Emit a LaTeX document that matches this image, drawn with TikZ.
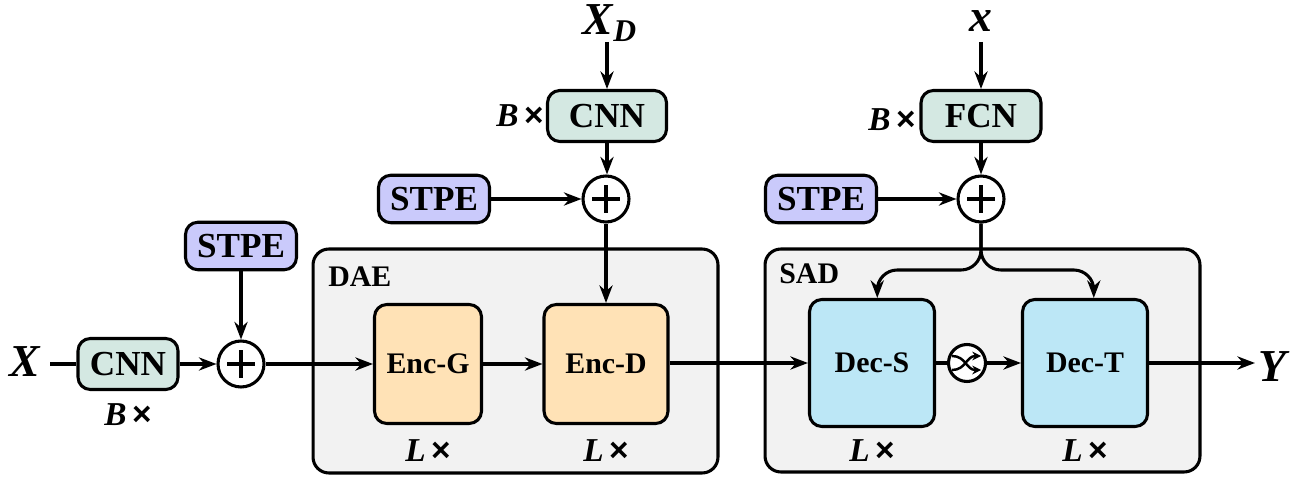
\documentclass[tikz,border=0pt]{standalone}
\usepackage{fontspec}
\setmainfont{Liberation Serif}
\setsansfont{Liberation Sans}
\usetikzlibrary{arrows.meta,positioning}

\definecolor{stpeblue}{HTML}{CACAFB}
\definecolor{cnngreen}{HTML}{D4E8E2}
\definecolor{encorange}{HTML}{FFE2B6}
\definecolor{deccyan}{HTML}{BCE7F6}
\definecolor{grpgray}{HTML}{F2F2F2}

\newcommand{\rep}[1]{\textbf{\textit{#1}}\,{\sffamily\bfseries ×}}

\tikzset{
    blk/.style={draw, line width=1.75pt, rounded corners=7pt, inner sep=0pt,
        font=\bfseries\fontsize{20}{24}\selectfont},
    stpe/.style={blk, fill=stpeblue, minimum width=2.22cm, minimum height=0.95cm},
    cnn/.style={blk, fill=cnngreen, minimum height=1.02cm},
    enc/.style={blk, fill=encorange, minimum height=2.38cm, font=\bfseries\fontsize{17}{20}\selectfont},
    dec/.style={blk, fill=deccyan, minimum width=2.5cm, minimum height=2.54cm, font=\bfseries\fontsize{17}{20}\selectfont},
    grp/.style={draw, line width=1.75pt, rounded corners=9pt, fill=grpgray},
    grplabel/.style={anchor=north west, inner sep=0pt, font=\bfseries\fontsize{17}{20}\selectfont},
    plus/.style={draw, circle, line width=1.75pt, minimum size=0.92cm, inner sep=0pt, fill=white,
        path picture={\draw[line width=1.75pt] ([xshift=-0.28cm]path picture bounding box.center) -- ([xshift=0.28cm]path picture bounding box.center)
            ([yshift=-0.28cm]path picture bounding box.center) -- ([yshift=0.28cm]path picture bounding box.center);}},
    mul/.style={draw, circle, line width=1.75pt, minimum size=0.74cm, inner sep=0pt, fill=white},
    io/.style={inner sep=1pt, anchor=base, font=\bfseries\itshape\fontsize{26}{30}\selectfont},
    rp/.style={inner sep=0pt, font=\fontsize{19}{22}\selectfont},
    arr/.style={-{Stealth[length=10pt,width=7.5pt]}, line width=1.75pt},
    ln/.style={line width=1.75pt}
}

\begin{document}
\begin{tikzpicture}[x=0.02cm, y=-0.02cm]
        \useasboundingbox (0,0) rectangle (1294,479);

        % groups
        \node[grp, minimum width=8.1cm, minimum height=4.48cm](dae) at (515.5,361) {};
        \node[grp, minimum width=8.7cm, minimum height=4.46cm](sad) at (982.5,360.5) {};
        \node[grplabel](daelab) at (328,266) {DAE};
        \node[grplabel](sadlab) at (779,263) {SAD};

        % inputs and outputs
        \node[io](X) at (25,377) {X};
        \node[io](XD) at (610,35) {X\textsubscript{\fontsize{18}{20}\selectfont D}};
        \node[io](xs) at (981,32) {x};
        \node[io](Y) at (1272,381) {Y};

        % blocks
        \node[cnn, minimum width=2cm](cnnL) at (128,364) {CNN};
        \node[cnn, minimum width=2.38cm](cnnT) at (607,116) {CNN};
        \node[cnn, minimum width=2.4cm](fcn) at (981,116) {FCN};
        \node[stpe](stpeL) at (241,246) {STPE};
        \node[stpe](stpeM) at (434,199) {STPE};
        \node[stpe](stpeR) at (821,199) {STPE};
        \node[plus](plusL) at (241,364) {};
        \node[plus](plusT) at (606,199) {};
        \node[plus](plusR) at (981,199) {};
        \node[enc, minimum width=2.14cm](encG) at (428,364) {Enc-G};
        \node[enc, minimum width=2.48cm](encD) at (606,364) {Enc-D};
        \node[dec](decS) at (872,363) {Dec-S};
        \node[dec](decT) at (1085,363) {Dec-T};
        \node[mul](mul) at (967,363) {};
        \draw[line width=1.4pt, -{Stealth[length=5pt,width=5pt]}] ([shift={(-15,-7)}]mul.center) .. controls ([shift={(-1,-7)}]mul.center) and ([shift={(-1,7)}]mul.center) .. ([shift={(14,7)}]mul.center);
        \draw[line width=1.4pt, -{Stealth[length=5pt,width=5pt]}] ([shift={(-15,7)}]mul.center) .. controls ([shift={(-1,7)}]mul.center) and ([shift={(-1,-7)}]mul.center) .. ([shift={(14,-7)}]mul.center);

        % repeat counts
        \node[rp](bL) at (128,415) {\rep{B}};
        \node[rp](bT) at (520,116) {\rep{B}};
        \node[rp](bR) at (892,120) {\rep{B}};
        \node[rp](lG) at (428,451) {\rep{L}};
        \node[rp](lD) at (606,451) {\rep{L}};
        \node[rp](lS) at (872,451) {\rep{L}};
        \node[rp](lT) at (1085,451) {\rep{L}};

        \coordinate (brk) at (981,270);
        \coordinate (xin) at (50,364);
        \coordinate (xdout) at (607,42);
        \coordinate (xsout) at (981,42);
        \coordinate (yin) at (1255,363);
        \coordinate (encin) at (encD.east |- decS.west);

        \draw[ln] (xin) -- (cnnL);
        \path
            (cnnL) edge [arr] (plusL)
            (stpeL) edge [arr] (plusL)
            (plusL) edge [arr] (encG)
            (encG) edge [arr] (encD)
            (encin) edge [arr] (decS)
            (xdout) edge [arr] (cnnT)
            (cnnT) edge [arr] (cnnT |- plusT.north)
            (stpeM) edge [arr] (plusT)
            (plusT) edge [arr] (encD)
            (xsout) edge [arr] (fcn)
            (fcn) edge [arr] (plusR)
            (stpeR) edge [arr] (plusR)
            (decS) edge [ln] (mul)
            (mul) edge [arr] (decT)
            (decT) edge [arr] (yin)
            ;
        \draw[arr, rounded corners=0.4cm] (plusR.south) -- (brk) -| ([xshift=3]decS.north);
        \draw[arr, rounded corners=0.4cm] (plusR.south) -- (brk) -| ([xshift=5]decT.north);
    \end{tikzpicture}
\end{document}
